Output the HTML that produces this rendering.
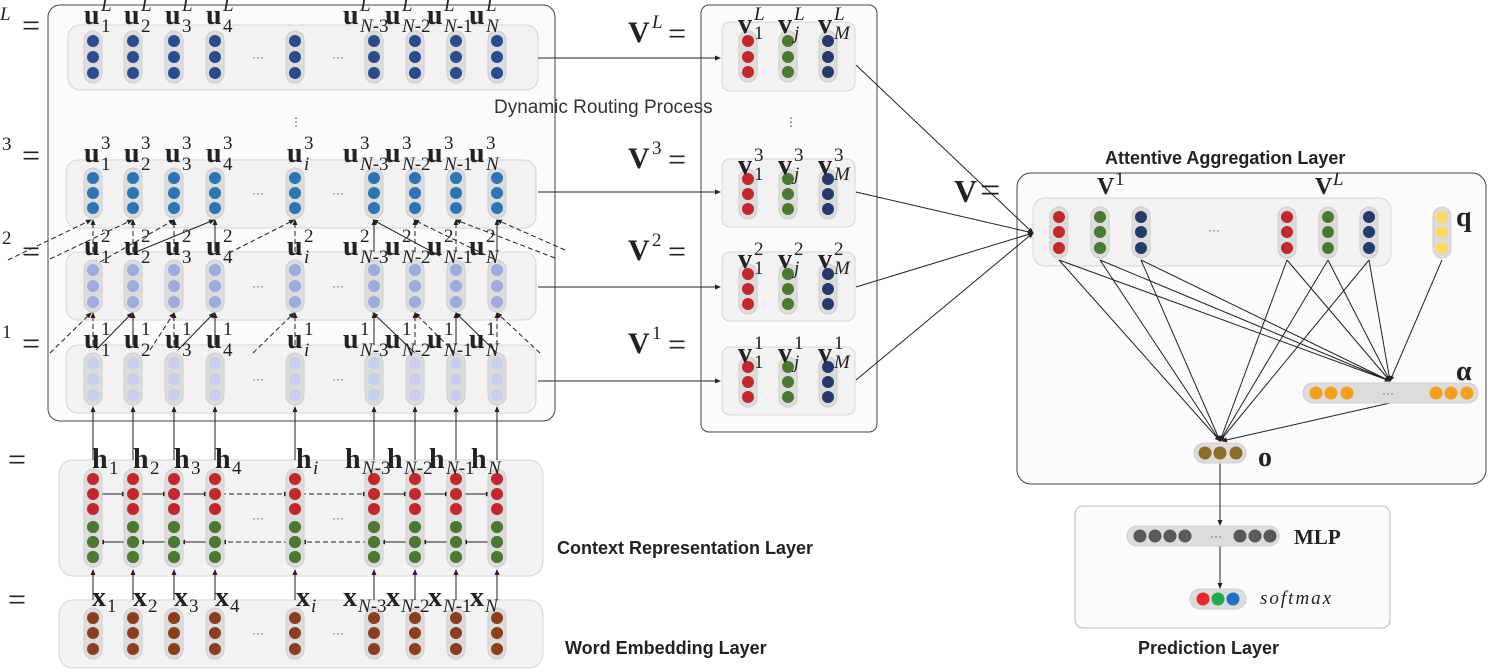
<!DOCTYPE html>
<html><head><meta charset="utf-8">
<style>
body{margin:0;background:#fff;}
svg{display:block;font-family:"Liberation Serif",serif;}
.m{font-weight:bold;font-size:28px;fill:#222;}
.s{font-size:19px;font-weight:normal;fill:#222;}
.i{font-style:italic;}
.t{font-family:"Liberation Sans",sans-serif;font-weight:bold;font-size:18px;fill:#222;}
.eq{font-size:32px;font-weight:normal;fill:#222;}
.dots{font-family:"Liberation Sans",sans-serif;font-size:12px;fill:#555;}
</style></head><body>
<svg id="s" width="1490" height="672" viewBox="0 0 1490 672" xmlns="http://www.w3.org/2000/svg">
<defs><marker id="a" markerWidth="6" markerHeight="6" refX="5" refY="3" orient="auto"><path d="M0,0.5 L6,3 L0,5.5z" fill="#222"/></marker></defs>
<g id="bg"></g>
<g id="ln"></g>
<g id="fg"></g>
<g id="tx">
<text x="0" y="20" class="s i">L</text><text x="22" y="36" class="eq">=</text>
<text x="2" y="150" class="s">3</text><text x="22" y="166" class="eq">=</text>
<text x="2" y="244" class="s">2</text><text x="22" y="262" class="eq">=</text>
<text x="2" y="338" class="s">1</text><text x="22" y="354" class="eq">=</text>
<text x="8" y="470" class="eq">=</text>
<text x="8" y="610" class="eq">=</text>
<!-- L row -->
<text y="24" class="m"><tspan x="84">u</tspan><tspan x="101" dy="-13" class="s i">L</tspan><tspan x="101" dy="21" class="s">1</tspan></text>
<text y="24" class="m"><tspan x="124">u</tspan><tspan x="141" dy="-13" class="s i">L</tspan><tspan x="141" dy="21" class="s">2</tspan></text>
<text y="24" class="m"><tspan x="165">u</tspan><tspan x="182" dy="-13" class="s i">L</tspan><tspan x="182" dy="21" class="s">3</tspan></text>
<text y="24" class="m"><tspan x="206">u</tspan><tspan x="223" dy="-13" class="s i">L</tspan><tspan x="223" dy="21" class="s">4</tspan></text>
<text y="24" class="m"><tspan x="343">u</tspan><tspan x="360" dy="-13" class="s i">L</tspan><tspan x="360" dy="21" class="s i">N</tspan><tspan class="s">-3</tspan></text>
<text y="24" class="m"><tspan x="385">u</tspan><tspan x="402" dy="-13" class="s i">L</tspan><tspan x="402" dy="21" class="s i">N</tspan><tspan class="s">-2</tspan></text>
<text y="24" class="m"><tspan x="427">u</tspan><tspan x="444" dy="-13" class="s i">L</tspan><tspan x="444" dy="21" class="s i">N</tspan><tspan class="s">-1</tspan></text>
<text y="24" class="m"><tspan x="469">u</tspan><tspan x="486" dy="-13" class="s i">L</tspan><tspan x="486" dy="21" class="s i">N</tspan></text>
<!-- row 3 -->
<text y="162" class="m"><tspan x="84">u</tspan><tspan x="101" dy="-13" class="s">3</tspan><tspan x="101" dy="21" class="s">1</tspan></text>
<text y="162" class="m"><tspan x="124">u</tspan><tspan x="141" dy="-13" class="s">3</tspan><tspan x="141" dy="21" class="s">2</tspan></text>
<text y="162" class="m"><tspan x="165">u</tspan><tspan x="182" dy="-13" class="s">3</tspan><tspan x="182" dy="21" class="s">3</tspan></text>
<text y="162" class="m"><tspan x="206">u</tspan><tspan x="223" dy="-13" class="s">3</tspan><tspan x="223" dy="21" class="s">4</tspan></text>
<text y="162" class="m"><tspan x="287">u</tspan><tspan x="304" dy="-13" class="s">3</tspan><tspan x="304" dy="21" class="s i">i</tspan></text>
<text y="162" class="m"><tspan x="343">u</tspan><tspan x="360" dy="-13" class="s">3</tspan><tspan x="360" dy="21" class="s i">N</tspan><tspan class="s">-3</tspan></text>
<text y="162" class="m"><tspan x="385">u</tspan><tspan x="402" dy="-13" class="s">3</tspan><tspan x="402" dy="21" class="s i">N</tspan><tspan class="s">-2</tspan></text>
<text y="162" class="m"><tspan x="427">u</tspan><tspan x="444" dy="-13" class="s">3</tspan><tspan x="444" dy="21" class="s i">N</tspan><tspan class="s">-1</tspan></text>
<text y="162" class="m"><tspan x="469">u</tspan><tspan x="486" dy="-13" class="s">3</tspan><tspan x="486" dy="21" class="s i">N</tspan></text>
<!-- row 2 -->
<text y="255" class="m"><tspan x="84">u</tspan><tspan x="101" dy="-13" class="s">2</tspan><tspan x="101" dy="21" class="s">1</tspan></text>
<text y="255" class="m"><tspan x="124">u</tspan><tspan x="141" dy="-13" class="s">2</tspan><tspan x="141" dy="21" class="s">2</tspan></text>
<text y="255" class="m"><tspan x="165">u</tspan><tspan x="182" dy="-13" class="s">2</tspan><tspan x="182" dy="21" class="s">3</tspan></text>
<text y="255" class="m"><tspan x="206">u</tspan><tspan x="223" dy="-13" class="s">2</tspan><tspan x="223" dy="21" class="s">4</tspan></text>
<text y="255" class="m"><tspan x="287">u</tspan><tspan x="304" dy="-13" class="s">2</tspan><tspan x="304" dy="21" class="s i">i</tspan></text>
<text y="255" class="m"><tspan x="343">u</tspan><tspan x="360" dy="-13" class="s">2</tspan><tspan x="360" dy="21" class="s i">N</tspan><tspan class="s">-3</tspan></text>
<text y="255" class="m"><tspan x="385">u</tspan><tspan x="402" dy="-13" class="s">2</tspan><tspan x="402" dy="21" class="s i">N</tspan><tspan class="s">-2</tspan></text>
<text y="255" class="m"><tspan x="427">u</tspan><tspan x="444" dy="-13" class="s">2</tspan><tspan x="444" dy="21" class="s i">N</tspan><tspan class="s">-1</tspan></text>
<text y="255" class="m"><tspan x="469">u</tspan><tspan x="486" dy="-13" class="s">2</tspan><tspan x="486" dy="21" class="s i">N</tspan></text>
<!-- row 1 -->
<text y="348" class="m"><tspan x="84">u</tspan><tspan x="101" dy="-13" class="s">1</tspan><tspan x="101" dy="21" class="s">1</tspan></text>
<text y="348" class="m"><tspan x="124">u</tspan><tspan x="141" dy="-13" class="s">1</tspan><tspan x="141" dy="21" class="s">2</tspan></text>
<text y="348" class="m"><tspan x="165">u</tspan><tspan x="182" dy="-13" class="s">1</tspan><tspan x="182" dy="21" class="s">3</tspan></text>
<text y="348" class="m"><tspan x="206">u</tspan><tspan x="223" dy="-13" class="s">1</tspan><tspan x="223" dy="21" class="s">4</tspan></text>
<text y="348" class="m"><tspan x="287">u</tspan><tspan x="304" dy="-13" class="s">1</tspan><tspan x="304" dy="21" class="s i">i</tspan></text>
<text y="348" class="m"><tspan x="343">u</tspan><tspan x="360" dy="-13" class="s">1</tspan><tspan x="360" dy="21" class="s i">N</tspan><tspan class="s">-3</tspan></text>
<text y="348" class="m"><tspan x="385">u</tspan><tspan x="402" dy="-13" class="s">1</tspan><tspan x="402" dy="21" class="s i">N</tspan><tspan class="s">-2</tspan></text>
<text y="348" class="m"><tspan x="427">u</tspan><tspan x="444" dy="-13" class="s">1</tspan><tspan x="444" dy="21" class="s i">N</tspan><tspan class="s">-1</tspan></text>
<text y="348" class="m"><tspan x="469">u</tspan><tspan x="486" dy="-13" class="s">1</tspan><tspan x="486" dy="21" class="s i">N</tspan></text>
<text x="290" y="126" class="dots">⋮</text>
<text x="494" y="113" style="font-family:'Liberation Sans',sans-serif;font-size:19px;fill:#333">Dynamic Routing Process</text>
<!-- h row -->
<text y="468" class="m"><tspan x="92">h</tspan><tspan x="109" dy="6" class="s">1</tspan></text>
<text y="468" class="m"><tspan x="133">h</tspan><tspan x="150" dy="6" class="s">2</tspan></text>
<text y="468" class="m"><tspan x="174">h</tspan><tspan x="191" dy="6" class="s">3</tspan></text>
<text y="468" class="m"><tspan x="215">h</tspan><tspan x="232" dy="6" class="s">4</tspan></text>
<text y="468" class="m"><tspan x="296">h</tspan><tspan x="313" dy="6" class="s i">i</tspan></text>
<text y="468" class="m"><tspan x="345">h</tspan><tspan x="362" dy="6" class="s i">N</tspan><tspan class="s">-3</tspan></text>
<text y="468" class="m"><tspan x="387">h</tspan><tspan x="404" dy="6" class="s i">N</tspan><tspan class="s">-2</tspan></text>
<text y="468" class="m"><tspan x="429">h</tspan><tspan x="446" dy="6" class="s i">N</tspan><tspan class="s">-1</tspan></text>
<text y="468" class="m"><tspan x="471">h</tspan><tspan x="488" dy="6" class="s i">N</tspan></text>
<!-- x row -->
<text y="606" class="m"><tspan x="92">x</tspan><tspan x="107" dy="6" class="s">1</tspan></text>
<text y="606" class="m"><tspan x="133">x</tspan><tspan x="148" dy="6" class="s">2</tspan></text>
<text y="606" class="m"><tspan x="174">x</tspan><tspan x="189" dy="6" class="s">3</tspan></text>
<text y="606" class="m"><tspan x="215">x</tspan><tspan x="230" dy="6" class="s">4</tspan></text>
<text y="606" class="m"><tspan x="296">x</tspan><tspan x="311" dy="6" class="s i">i</tspan></text>
<text y="606" class="m"><tspan x="343">x</tspan><tspan x="358" dy="6" class="s i">N</tspan><tspan class="s">-3</tspan></text>
<text y="606" class="m"><tspan x="386">x</tspan><tspan x="401" dy="6" class="s i">N</tspan><tspan class="s">-2</tspan></text>
<text y="606" class="m"><tspan x="428">x</tspan><tspan x="443" dy="6" class="s i">N</tspan><tspan class="s">-1</tspan></text>
<text y="606" class="m"><tspan x="470">x</tspan><tspan x="485" dy="6" class="s i">N</tspan></text>
<text x="557" y="554" class="t">Context Representation Layer</text>
<text x="565" y="654" class="t">Word Embedding Layer</text>
<text x="1138" y="654" class="t">Prediction Layer</text>
<text x="1105" y="164" class="t">Attentive Aggregation Layer</text>
<!-- V box labels -->
<text y="42" class="m" style="font-size:30px"><tspan x="628">V</tspan><tspan x="652" dy="-14" class="s i">L</tspan><tspan x="668" dy="16" class="eq">=</tspan></text>
<text y="168" class="m" style="font-size:30px"><tspan x="628">V</tspan><tspan x="652" dy="-14" class="s">3</tspan><tspan x="668" dy="16" class="eq">=</tspan></text>
<text y="260" class="m" style="font-size:30px"><tspan x="628">V</tspan><tspan x="652" dy="-14" class="s">2</tspan><tspan x="668" dy="16" class="eq">=</tspan></text>
<text y="353" class="m" style="font-size:30px"><tspan x="628">V</tspan><tspan x="652" dy="-14" class="s">1</tspan><tspan x="668" dy="16" class="eq">=</tspan></text>
<text y="33" class="m"><tspan x="738">v</tspan><tspan x="754" dy="-13" class="s i">L</tspan><tspan x="754" dy="19" class="s">1</tspan></text>
<text y="33" class="m"><tspan x="778">v</tspan><tspan x="794" dy="-13" class="s i">L</tspan><tspan x="794" dy="19" class="s i">j</tspan></text>
<text y="33" class="m"><tspan x="818">v</tspan><tspan x="834" dy="-13" class="s i">L</tspan><tspan x="834" dy="19" class="s i">M</tspan></text>
<text y="174" class="m"><tspan x="738">v</tspan><tspan x="754" dy="-13" class="s">3</tspan><tspan x="754" dy="19" class="s">1</tspan></text>
<text y="174" class="m"><tspan x="778">v</tspan><tspan x="794" dy="-13" class="s">3</tspan><tspan x="794" dy="19" class="s i">j</tspan></text>
<text y="174" class="m"><tspan x="818">v</tspan><tspan x="834" dy="-13" class="s">3</tspan><tspan x="834" dy="19" class="s i">M</tspan></text>
<text y="268" class="m"><tspan x="738">v</tspan><tspan x="754" dy="-13" class="s">2</tspan><tspan x="754" dy="19" class="s">1</tspan></text>
<text y="268" class="m"><tspan x="778">v</tspan><tspan x="794" dy="-13" class="s">2</tspan><tspan x="794" dy="19" class="s i">j</tspan></text>
<text y="268" class="m"><tspan x="818">v</tspan><tspan x="834" dy="-13" class="s">2</tspan><tspan x="834" dy="19" class="s i">M</tspan></text>
<text y="362" class="m"><tspan x="738">v</tspan><tspan x="754" dy="-13" class="s">1</tspan><tspan x="754" dy="19" class="s">1</tspan></text>
<text y="362" class="m"><tspan x="778">v</tspan><tspan x="794" dy="-13" class="s">1</tspan><tspan x="794" dy="19" class="s i">j</tspan></text>
<text y="362" class="m"><tspan x="818">v</tspan><tspan x="834" dy="-13" class="s">1</tspan><tspan x="834" dy="19" class="s i">M</tspan></text>
<text x="785" y="126" class="dots">⋮</text>
<text x="954" y="202" class="m" style="font-size:32px">V</text><text x="980" y="202" class="eq" style="font-size:36px">=</text>
<text y="194" class="m" style="font-size:24px"><tspan x="1097">V</tspan><tspan x="1115" dy="-9" class="s">1</tspan></text>
<text y="194" class="m" style="font-size:24px"><tspan x="1315">V</tspan><tspan x="1333" dy="-9" class="s i">L</tspan></text>
<text x="1208" y="234" class="dots">···</text>
<text x="1456" y="226" class="m">q</text>
<text x="1456" y="380" class="m" style="font-size:28px">α</text>
<text x="1382" y="397" class="dots" style="fill:#4a6fb0">···</text>
<text x="1258" y="466" class="m">o</text>
<text x="1210" y="540" class="dots">···</text>
<text x="1294" y="544" class="m" style="font-size:21px">MLP</text>
<text x="1260" y="604" style="font-family:'Liberation Serif',serif;font-style:italic;font-size:19px;fill:#222;letter-spacing:2px">softmax</text>
</g>
</svg>
<script>
const NS="http://www.w3.org/2000/svg";
const bg=document.getElementById('bg'),ln=document.getElementById('ln'),fg=document.getElementById('fg');
function el(p,t,a){const e=document.createElementNS(NS,t);for(const k in a)e.setAttribute(k,a[k]);p.appendChild(e);return e;}
function rect(p,x,y,w,h,r,f,s){return el(p,'rect',{x,y,width:w,height:h,rx:r,fill:f,stroke:s||'none','stroke-width':1});}
function line(x1,y1,x2,y2,dash,arrow){const a={x1,y1,x2,y2,stroke:'#222','stroke-width':1};if(dash)a['stroke-dasharray']='5,3';if(arrow)a['marker-end']='url(#a)';el(ln,'line',a);}
function vpill(x,ys,col){rect(fg,x-9,ys[0]-10,18,ys[ys.length-1]-ys[0]+20,9,'#dcdcdc','#cfcfcf');ys.forEach(y=>el(fg,'circle',{cx:x,cy:y,r:6,fill:col}));}
function hpill(x1,x2,y,xs,cols){rect(fg,x1,y-10,x2-x1,20,10,'#dcdcdc','#cfcfcf');xs.forEach((x,i)=>el(fg,'circle',{cx:x,cy:y,r:6.5,fill:cols[i]||cols[0]}));}
rect(bg,48,5,507,416,12,'#fbfbfb','#444');
rect(bg,701,5,176,427,8,'#fbfbfb','#444');
rect(bg,1017,173,469,311,14,'#fbfbfb','#444');
rect(bg,1075,506,315,122,8,'#fbfbfb','#bbb');
const X=[93,133,174,215,295,374,415,456,497];
const rows=[{p:[68,25,470,65],c:[41,57,73],col:'#2e4a8e'},{p:[66,160,470,68],c:[178,193,208],col:'#2e74b5'},{p:[66,252,470,68],c:[270,286,302],col:'#9dacdf'},{p:[66,345,470,68],c:[363,379,395],col:'#c5cfee'}];
rows.forEach((r,k)=>{rect(bg,r.p[0],r.p[1],r.p[2],r.p[3],12,'#f2f2f2','#d6d6d6');X.forEach(x=>vpill(x,r.c,r.col));
 const t=el(fg,'text',{x:252,y:r.c[1]+4,class:'dots'});t.textContent='···';const t2=el(fg,'text',{x:332,y:r.c[1]+4,class:'dots'});t2.textContent='···';});
rect(bg,59,460,484,116,14,'#f2f2f2','#d6d6d6');
rect(bg,59,600,484,68,14,'#f2f2f2','#d6d6d6');
X.forEach(x=>{vpill(x,[479,494,509,527,542,557],'#c0282d');[527,542,557].forEach(y=>el(fg,'circle',{cx:x,cy:y,r:6,fill:'#4a7a32'}));vpill(x,[618,633,649],'#8b3e1e');
 line(x,600,x,570,false,true);line(x,460,x,407,false,true);});
['252','332'].forEach(x=>{let t=el(fg,'text',{x,y:522,class:'dots'});t.textContent='···';t=el(fg,'text',{x,y:637,class:'dots'});t.textContent='···';});
for(let i=0;i<8;i++){const d=(i==3||i==4);line(X[i]+6,494,X[i+1]-6,494,d,true);line(X[i+1]-6,542,X[i]+6,542,d,true);}
const v12=[1,0,1,0,1,0,1,0,1];X.forEach((x,i)=>line(x,345,x,313,v12[i],true));
[[50,353,91,313,1],[96,350,132,313,0],[150,350,174,313,1],[178,350,214,313,0],[253,353,294,313,1],[415,353,373,313,0],[455,353,415,313,1],[497,353,456,313,0],[540,353,497,313,1]].forEach(a=>line(a[0],a[1],a[2],a[3],a[4],true));
const v23=[1,1,1,0,1,0,1,1,0];X.forEach((x,i)=>line(x,252,x,220,v23[i],true));
[[8,260,91,220,1],[50,259,132,220,1],[100,262,174,220,1],[136,252,214,220,0],[229,253,294,220,1],[440,256,373,220,0],[500,262,414,220,1],[555,258,456,220,1],[565,250,497,220,1]].forEach(a=>line(a[0],a[1],a[2],a[3],a[4],true));
const vr=[{p:[722,22,133,69],c:[41,57,72],ay:58,oy:65},{p:[722,159,133,68],c:[179,194,209],ay:192,oy:192},{p:[722,252,133,69],c:[274,289,304],ay:287,oy:287},{p:[722,347,133,68],c:[367,382,397],ay:381,oy:380}];
vr.forEach(r=>{rect(bg,r.p[0],r.p[1],r.p[2],r.p[3],8,'#f2f2f2','#d6d6d6');vpill(748,r.c,'#c0282d');vpill(788,r.c,'#4a7a32');vpill(828,r.c,'#243a6b');line(538,r.ay,720,r.ay,false,true);line(856,r.oy,1033,233,false,true);});
rect(bg,1033,198,358,68,12,'#f2f2f2','#d6d6d6');
const ax=[1059,1100,1141,1287,1328,1369],ac=['#c0282d','#4a7a32','#243a6b','#c0282d','#4a7a32','#243a6b'];
ax.forEach((x,i)=>{vpill(x,[217,232,248],ac[i]);line(x,260,1220,441,false,true);line(x,260,1390,381,false,true);});
vpill(1442,[217,232,248],'#ffd966');line(1442,260,1390,381,false,true);
hpill(1303,1478,393,[1316,1331,1347,1436,1451,1467],['#f4a01e']);
line(1390,403,1222,441,false,true);
hpill(1194,1246,453,[1205,1220,1236],['#8c6d2a']);
line(1220,463,1220,525,false,true);
hpill(1127,1279,536,[1140,1155,1170,1185,1240,1255,1270],['#595959']);
line(1220,546,1220,588,false,true);
hpill(1190,1246,599,[1203,1218,1233],['#e8262c','#20a84a','#1f6fc5']);
</script>
</body></html>
